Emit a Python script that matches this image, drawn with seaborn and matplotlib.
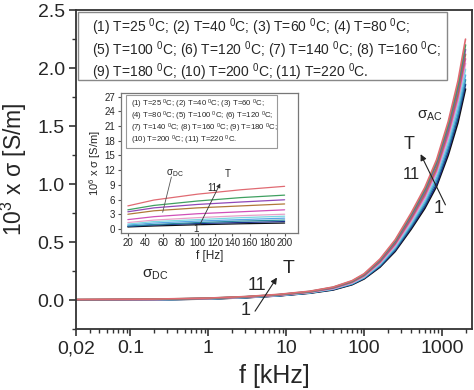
import numpy as np
import pandas as pd
import matplotlib
matplotlib.use('Agg')
import matplotlib.pyplot as plt
import seaborn as sns
from matplotlib.patches import Rectangle
from matplotlib.ticker import NullFormatter, LogLocator, MultipleLocator, FormatStrFormatter

# main plot: frequency in kHz, conductivity x 10^3 [S/m], curves 1..11
f_khz = [0.02, 0.2, 1, 3, 8, 20, 40, 70, 100, 160, 250, 400, 600, 850, 1200, 1600, 2000]
sig_main = [
    [0.000, 0.003, 0.010, 0.021, 0.037, 0.060, 0.088, 0.133, 0.183, 0.285, 0.420, 0.610, 0.790, 0.98, 1.25, 1.53, 1.82],
    [0.001, 0.003, 0.011, 0.022, 0.038, 0.062, 0.091, 0.137, 0.188, 0.292, 0.430, 0.624, 0.808, 1.00, 1.28, 1.57, 1.86],
    [0.001, 0.004, 0.012, 0.023, 0.039, 0.063, 0.094, 0.140, 0.192, 0.299, 0.440, 0.638, 0.826, 1.03, 1.31, 1.60, 1.90],
    [0.002, 0.004, 0.012, 0.024, 0.040, 0.065, 0.096, 0.143, 0.196, 0.306, 0.450, 0.652, 0.844, 1.05, 1.34, 1.64, 1.94],
    [0.002, 0.005, 0.013, 0.025, 0.042, 0.066, 0.098, 0.147, 0.200, 0.313, 0.460, 0.666, 0.862, 1.08, 1.37, 1.68, 1.99],
    [0.003, 0.006, 0.014, 0.026, 0.043, 0.068, 0.100, 0.150, 0.205, 0.320, 0.470, 0.680, 0.880, 1.10, 1.40, 1.72, 2.04],
    [0.003, 0.006, 0.015, 0.027, 0.044, 0.070, 0.103, 0.154, 0.210, 0.327, 0.480, 0.694, 0.898, 1.12, 1.43, 1.75, 2.08],
    [0.004, 0.007, 0.015, 0.028, 0.046, 0.071, 0.106, 0.157, 0.214, 0.334, 0.490, 0.708, 0.916, 1.14, 1.46, 1.78, 2.12],
    [0.004, 0.007, 0.016, 0.029, 0.047, 0.073, 0.108, 0.161, 0.219, 0.341, 0.500, 0.722, 0.934, 1.17, 1.48, 1.82, 2.16],
    [0.005, 0.008, 0.017, 0.030, 0.048, 0.075, 0.111, 0.164, 0.223, 0.348, 0.510, 0.736, 0.952, 1.19, 1.51, 1.85, 2.20],
    [0.006, 0.009, 0.018, 0.031, 0.050, 0.077, 0.113, 0.168, 0.228, 0.355, 0.520, 0.750, 0.970, 1.21, 1.54, 1.89, 2.25],
]

# inset: frequency in Hz, conductivity x 10^6 [S/m]
f_hz = [20, 50, 100, 150, 200]
sig_inset = [
    [0.4, 0.6, 0.85, 1.05, 1.2],
    [0.5, 0.8, 1.1, 1.3, 1.5],
    [0.6, 0.9, 1.3, 1.6, 1.8],
    [0.8, 1.2, 1.6, 1.9, 2.2],
    [1.0, 1.5, 1.9, 2.3, 2.6],
    [1.3, 1.8, 2.3, 2.7, 3.0],
    [1.9, 2.5, 3.1, 3.5, 3.9],
    [3.0, 3.7, 4.3, 4.7, 5.1],
    [3.5, 4.3, 5.0, 5.5, 5.95],
    [3.9, 4.8, 5.7, 6.4, 6.9],
    [4.7, 5.9, 7.1, 8.0, 8.7],
]

curve_ids = [str(i) for i in range(1, 12)]
colors = ['#101010', '#1c2f8c', '#2a8ca0', '#5aa6e6', '#7ad8e0', '#e8a0c8',
          '#d050b8', '#b07838', '#9048b8', '#3fa060', '#e06a72']

sns.set_theme(style='ticks')
plt.rcParams['font.family'] = ['Liberation Sans', 'DejaVu Sans']
plt.rcParams['mathtext.fontset'] = 'custom'
plt.rcParams['mathtext.rm'] = 'Liberation Sans'
plt.rcParams['mathtext.it'] = 'Liberation Sans'

df_main = pd.DataFrame([(c, f, v) for c, row in zip(curve_ids, sig_main) for f, v in zip(f_khz, row)],
                       columns=['curve', 'f', 'sigma'])
df_in = pd.DataFrame([(c, f, v) for c, row in zip(curve_ids, sig_inset) for f, v in zip(f_hz, row)],
                     columns=['curve', 'f', 'sigma'])

fig = plt.figure(figsize=(4.74, 3.9), dpi=100)
ax = fig.add_axes([0.160, 0.156, 0.836, 0.818])
sns.lineplot(data=df_main, x='f', y='sigma', hue='curve', palette=colors, lw=1.2,
             legend=False, ax=ax)
ax.set_xscale('log')
ax.set_xlim(0.02, 2430)
ax.set_ylim(-0.25, 2.5)
ax.set_xticks([0.02, 0.1, 1, 10, 100, 1000])
ax.set_xticklabels(['0,02', '0.1', '1', '10', '100', '1000'])
ax.xaxis.set_minor_locator(LogLocator(base=10, subs=np.arange(2, 10)))
ax.xaxis.set_minor_formatter(NullFormatter())
ax.yaxis.set_major_locator(MultipleLocator(0.5))
ax.yaxis.set_minor_locator(MultipleLocator(0.25))
ax.yaxis.set_major_formatter(FormatStrFormatter('%.1f'))
ax.tick_params(which='major', direction='out', length=5, width=1.2, labelsize=14, pad=3, color='#333333')
ax.tick_params(which='minor', direction='out', length=3, width=1.0, color='#333333')
for s in ax.spines.values():
    s.set_linewidth(1.3)
    s.set_color('#333333')
ax.set_xlabel('f [kHz]', fontsize=18, labelpad=5)
ax.set_ylabel('10$^3$ x σ [S/m]', fontsize=16.5, labelpad=6)

# legend box of temperatures
ax.add_patch(Rectangle((0.006, 0.78), 0.93, 0.215, transform=ax.transAxes, fill=False,
                       ec='#888888', lw=1.0, zorder=5))
main_lines = ['(1) T=25 $^0$C; (2) T=40 $^0$C; (3) T=60 $^0$C; (4) T=80 $^0$C;',
              '(5) T=100 $^0$C; (6) T=120 $^0$C; (7) T=140 $^0$C; (8) T=160 $^0$C;',
              '(9) T=180 $^0$C; (10) T=200 $^0$C; (11) T=220 $^0$C.']
for i, line in enumerate(main_lines):
    ax.text(0.04, 0.945 - i * 0.07, line, transform=ax.transAxes, fontsize=10, va='center')

# annotations on main plot
ax.text(0.21, 0.22, 'σ$_{\\rm DC}$', fontsize=11, ha='center', va='center')
ax.annotate('', xy=(7.96, 0.215), xytext=(3.81, -0.115),
            arrowprops=dict(arrowstyle='-|>', lw=0.8, color='#222222', mutation_scale=9))
ax.text(4.21, 0.13, '11', fontsize=13, ha='center', va='center')
ax.text(10.7, 0.27, 'T', fontsize=14, ha='center', va='center')
ax.text(3.04, -0.09, '1', fontsize=13, ha='center', va='center')
ax.text(700, 1.59, 'σ$_{\\rm AC}$', fontsize=11, ha='center', va='center')
ax.annotate('', xy=(512, 1.28), xytext=(1146, 0.80),
            arrowprops=dict(arrowstyle='-|>', lw=0.8, color='#222222', mutation_scale=9))
ax.text(381, 1.34, 'T', fontsize=13, ha='center', va='center')
ax.text(409, 1.08, '11', fontsize=12, ha='center', va='center')
ax.text(897, 0.79, '1', fontsize=13, ha='center', va='center')

# inset
axi = fig.add_axes([0.255, 0.403, 0.373, 0.359])
sns.lineplot(data=df_in, x='f', y='sigma', hue='curve', palette=colors, lw=0.9,
             legend=False, ax=axi)
axi.set_xlim(12, 215)
axi.set_ylim(-0.8, 27.8)
axi.set_xticks(range(20, 201, 20))
axi.set_yticks(range(0, 28, 3))
axi.tick_params(direction='out', length=2.5, width=0.8, labelsize=7, pad=1.5, color='#555555')
for s in axi.spines.values():
    s.set_linewidth(0.9)
    s.set_color('#777777')
axi.set_xlabel('f [Hz]', fontsize=8.5, labelpad=1)
axi.set_ylabel('10$^6$ x σ [S/m]', fontsize=8, labelpad=1)
axi.add_patch(Rectangle((0.03, 0.605), 0.855, 0.38, transform=axi.transAxes, fill=False,
                        ec='#999999', lw=0.8, zorder=5))
inset_lines = ['(1) T=25 $^0$C; (2) T=40 $^0$C; (3) T=60 $^0$C;',
               '(4) T=80 $^0$C; (5) T=100 $^0$C; (6) T=120 $^0$C;',
               '(7) T=140 $^0$C; (8) T=160 $^0$C; (9) T=180 $^0$C;',
               '(10) T=200 $^0$C; (11) T=220 $^0$C.']
for i, line in enumerate(inset_lines):
    axi.text(0.055, 0.915 - i * 0.085, line, transform=axi.transAxes, fontsize=5.6, va='center')
axi.text(74, 11.3, 'σ$_{\\rm DC}$', fontsize=7, ha='center', va='center')
axi.plot([70, 60], [10.6, 3.4], color='#555555', lw=0.6)
axi.annotate('', xy=(127.5, 9.8), xytext=(101.4, 0.4),
             arrowprops=dict(arrowstyle='-|>', lw=0.6, color='#333333', mutation_scale=6))
axi.text(134.7, 11.2, 'T', fontsize=7, ha='center', va='center')
axi.text(117, 8.3, '11', fontsize=7, ha='center', va='center')
axi.text(98.8, -0.1, '1', fontsize=7, ha='center', va='center')

fig.savefig('out.png', dpi=100)
